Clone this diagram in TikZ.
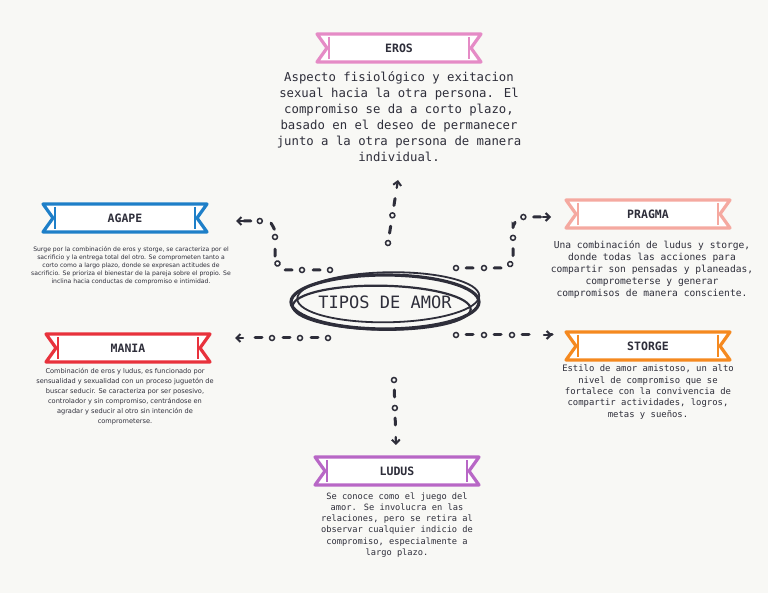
\documentclass[tikz,border=0pt]{standalone}
\usepackage{fontspec}
\setmainfont{DejaVu Sans}
\newfontfamily\monof{DejaVu Sans Mono}
\usetikzlibrary{decorations.markings,arrows.meta}
\definecolor{bg}{HTML}{F8F8F5}
\definecolor{ink}{HTML}{2E2E3A}
\definecolor{cEros}{HTML}{E58BC6}
\definecolor{cAgape}{HTML}{1E7FC8}
\definecolor{cPragma}{HTML}{F5A9A0}
\definecolor{cMania}{HTML}{E8323C}
\definecolor{cStorge}{HTML}{F5891F}
\definecolor{cLudus}{HTML}{B867C6}
\newcommand{\banner}[4]{% cx cy color name
  \begin{scope}[shift={(#1,#2)}]
  \draw[#3,line width=3.2pt,line join=round,fill=white]
    (-82,-14) -- (82,-14) -- (72,0) -- (82,14) -- (-82,14) -- (-72,0) -- cycle;
  \draw[#3,line width=1.2pt] (-70,-11) -- (-70,11) (70,-11) -- (70,11);
  \node[font=\monof\fontsize{11.5}{11.5}\selectfont\bfseries,text=ink] (#4) at (0,0) {#4};
  \end{scope}}
\tikzset{
  conn/.style={ink,line width=3pt,line cap=round,dash pattern=on 7pt off 21pt,dash phase=18pt,
    postaction={decorate,decoration={markings,
      mark=between positions 0 and 0.86 step 28pt with {\draw[ink,line width=1.5pt,solid,fill=bg] (0,0) circle (2.5pt);},
      mark=at position 1 with {\draw[ink,solid,line width=2.2pt,line cap=round,-{Straight Barb[length=4pt,width=8pt,line width=2pt]}] (-8pt,0) -- (0,0);}}}},
  bodytxt/.style={align=center,text=ink},
}
\begin{document}
\begin{tikzpicture}[x=1pt,y=-1pt]
\fill[bg] (0,0) rectangle (768,593);
\useasboundingbox (0,0) rectangle (768,593);
\banner{399}{48}{cEros}{EROS}
\banner{125}{218}{cAgape}{AGAPE}
\banner{648}{214}{cPragma}{PRAGMA}
\banner{128}{348}{cMania}{MANIA}
\banner{648}{346}{cStorge}{STORGE}
\banner{397}{471}{cLudus}{LUDUS}
% center
\node[font=\monof\fontsize{17}{17}\selectfont,text=ink] (tipos) at (385,302) {TIPOS DE AMOR};
\draw[ink,line width=3.2pt] (385,302) ellipse (94 and 27);
\draw[ink,line width=2.2pt] (387,301) [rotate=-1] ellipse (89 and 22);
\draw[ink,line width=1.8pt] (383,304) [rotate=1] ellipse (91 and 25);
% texts
\node[bodytxt,font=\monof\fontsize{12.3}{16}\selectfont] (erosT) at (399,117) {Aspecto fisiológico y exitacion\\sexual hacia la otra persona. El\\compromiso se da a corto plazo,\\basado en el deseo de permanecer\\junto a la otra persona de manera\\individual.};
\node[bodytxt,font=\monof\fontsize{9.6}{12}\selectfont] (pragT) at (652,270) {Una combinación de ludus y storge,\\donde todas las acciones para\\compartir son pensadas y planeadas,\\comprometerse y generar\\compromisos de manera consciente.};
\node[bodytxt,font=\monof\fontsize{8.9}{11.3}\selectfont] (storT) at (648,392) {Estilo de amor amistoso, un alto\\nivel de compromiso que se\\fortalece con la convivencia de\\compartir actividades, logros,\\metas y sueños.};
\node[bodytxt,font=\monof\fontsize{8.7}{11.2}\selectfont] (ludT) at (397,525) {Se conoce como el juego del\\amor. Se involucra en las\\relaciones, pero se retira al\\observar cualquier indicio de\\compromiso, especialmente a\\largo plazo.};
\node[bodytxt,font=\fontsize{6.1}{8}\selectfont] (agT) at (131,266) {Surge por la combinación de eros y storge, se caracteriza por el\\sacrificio y la entrega total del otro. Se comprometen tanto a\\corto como a largo plazo, donde se expresan actitudes de\\sacrificio. Se prioriza el bienestar de la pareja sobre el propio. Se\\inclina hacia conductas de compromiso e intimidad.};
\node[bodytxt,font=\fontsize{6.6}{10}\selectfont] (manT) at (125,397) {Combinación de eros y ludus, es funcionado por\\sensualidad y sexualidad con un proceso juguetón de\\buscar seducir. Se caracteriza por ser posesivo,\\controlador y sin compromiso, centrándose en\\agradar y seducir al otro sin intención de\\comprometerse.};
% connectors
\coordinate (a0) at (330,270); \coordinate (a1) at (236,221);
\coordinate (e0) at (388,243); \coordinate (e1) at (398,180);
\coordinate (p0) at (456,268); \coordinate (p1) at (551,217);
\coordinate (m0) at (328,338); \coordinate (m1) at (235,338);
\coordinate (s0) at (456,335); \coordinate (s1) at (552,335);
\coordinate (l0) at (394,380); \coordinate (l1) at (396,445);
\draw[conn] (a0) -- (283,270) to[out=180,in=90] (275,258) -- (275,229) to[out=-90,in=0] (268,221) -- (a1);
\draw[conn] (e0) -- (e1);
\draw[conn] (p0) -- (506,268) to[out=0,in=90] (513,260) -- (513,225) to[out=-90,in=180] (520,217) -- (p1);
\draw[conn] (m0) -- (m1);
\draw[conn] (s0) -- (s1);
\draw[conn] (l0) -- (l1);
\end{tikzpicture}
\end{document}
